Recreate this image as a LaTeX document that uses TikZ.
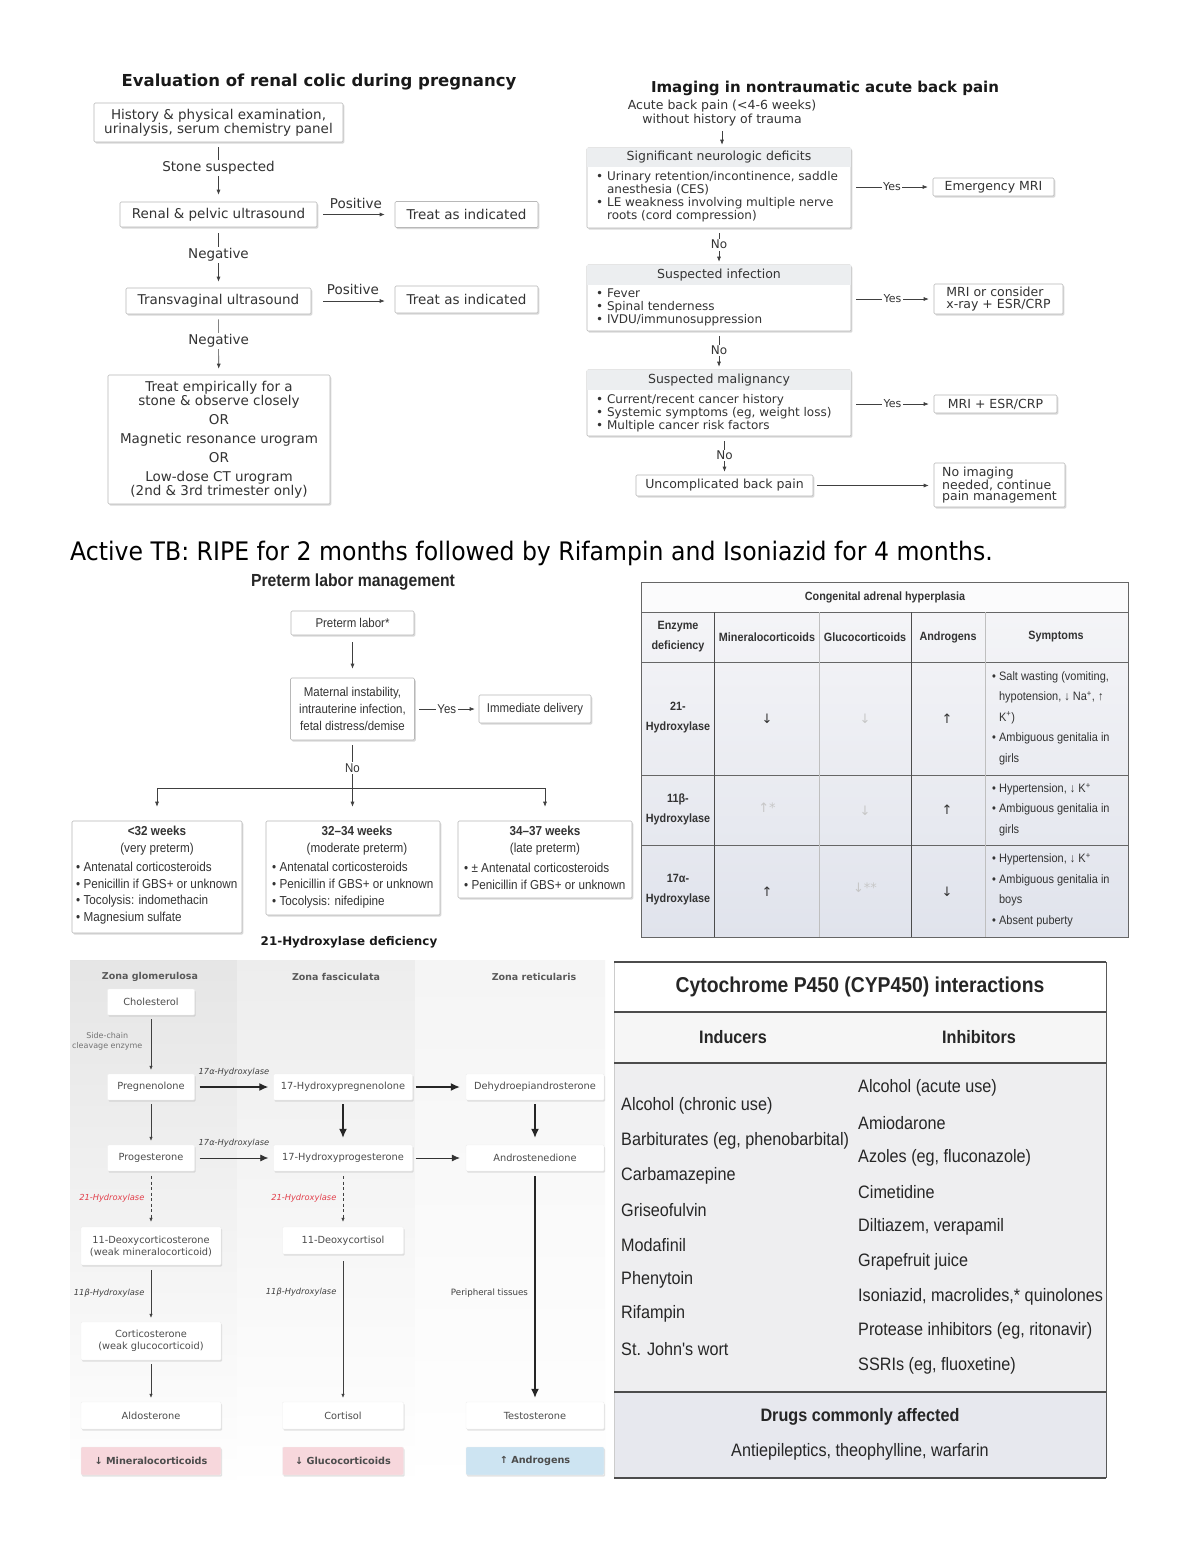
\documentclass[tikz,border=0pt]{standalone}
\usepackage{fontspec}
\setmainfont{DejaVu Sans}
\newfontfamily\dv{DejaVu Sans}
\newfontfamily\dvtb[FakeStretch=0.925]{DejaVu Sans}
\newfontfamily\nar[FakeStretch=0.9]{Liberation Sans}
\usetikzlibrary{arrows.meta,shadows,calc}
\definecolor{bxline}{gray}{0.72}
\definecolor{txt}{gray}{0.2}
\definecolor{hdrfill}{RGB}{236,238,240}
\definecolor{pinkf}{RGB}{247,215,220}
\definecolor{bluef}{RGB}{205,228,242}
\definecolor{redlab}{RGB}{226,62,74}
\definecolor{cahtop}{RGB}{246,246,248}
\definecolor{cahbot}{RGB}{224,227,236}
\definecolor{cypbody}{RGB}{238,238,240}
\definecolor{cypbot}{RGB}{231,232,238}
\definecolor{cyphead}{RGB}{246,246,246}
\tikzset{
  bx/.style={draw=bxline, fill=white, line width=0.6pt, rounded corners=1.2pt, inner sep=2pt, align=center,
    drop shadow={shadow xshift=1.3pt, shadow yshift=-1.6pt, opacity=0.3}},
  wb/.style={fill=white, draw=black!6, line width=0.4pt, rounded corners=1pt, inner sep=1pt, align=center,
    drop shadow={shadow xshift=1pt, shadow yshift=-1.5pt, opacity=0.22}},
  arr/.style={-{Latex[length=5pt,width=4pt]}, line width=0.6pt, draw=black!75},
  ln/.style={line width=0.6pt, draw=black!75},
  lab/.style={fill=white, inner sep=1.5pt},
  ta/.style={-{Latex[length=4pt,width=3.5pt]}, line width=0.6pt, draw=black!75},
  tk/.style={-{Latex[length=9pt,width=8pt]}, line width=1.3pt, draw=black!85},
  tm/.style={-{Latex[length=8pt,width=7pt]}, line width=0.7pt, draw=black!80},
  da/.style={ta, dash pattern=on 3pt off 2.5pt},
  el/.style={font=\dv\itshape\fontsize{8.3}{10}\selectfont, text=black!75},
  rl/.style={el, text=redlab},
  sl/.style={font=\dv\fontsize{8}{10}\selectfont, text=black!55, align=center},
  hb/.style={font=\nar\bfseries\fontsize{12}{20}\selectfont, align=center},
  fa/.style={text=black!22},
  ca/.style={font=\dv\fontsize{13}{15}\selectfont},
}
\begin{document}
\begin{tikzpicture}[x=1pt,y=-1pt]
\useasboundingbox[fill=white] (0,0) rectangle (1200,1553);

% ================= Section 1: renal colic =================
\begin{scope}[font=\dv\fontsize{13.5}{13}\selectfont, text=txt]
\node[font=\dv\bfseries\fontsize{16.5}{19}\selectfont, text=black!90] (t1) at (319,82) {Evaluation of renal colic during pregnancy};
\node[bx, minimum width=249, minimum height=39] (h1) at (218.5,122.5) {History \& physical examination,\\urinalysis, serum chemistry panel};
\node[bx, minimum width=197, minimum height=25] (r1) at (218.5,214.5) {Renal \& pelvic ultrasound};
\node[bx, minimum width=143, minimum height=26] (p1) at (466.5,214.5) {Treat as indicated};
\node[bx, minimum width=185, minimum height=26] (v1) at (218.5,301) {Transvaginal ultrasound};
\node[bx, minimum width=143, minimum height=27] (p2) at (466.5,299.5) {Treat as indicated};
\node[bx, minimum width=222, minimum height=129] (e1) at (219,439.5) {Treat empirically for a\\stone \& observe closely\\[6pt]OR\\[6pt]Magnetic resonance urogram\\[6pt]OR\\[6pt]Low-dose CT urogram\\(2nd \& 3rd trimester only)};
\draw[arr, shorten <=5pt, shorten >=7pt] (h1) -- node[lab, pos=0.43]{Stone suspected} (r1);
\draw[arr, shorten <=6pt, shorten >=6pt] (r1) -- node[lab, pos=0.46]{Negative} (v1);
\draw[arr, shorten <=5pt, shorten >=6pt] (v1) -- node[lab, pos=0.44]{Negative} (e1);
\draw[arr, shorten <=6pt, shorten >=10pt] (r1.east) -- node[above=4pt, inner sep=2pt]{Positive} (p1.west);
\draw[arr, shorten <=12pt, shorten >=10pt] (v1.east) -- node[above=4pt, inner sep=2pt]{Positive} (v1.east -| p2.west);
\end{scope}

% ================= Section 2: back pain =================
\begin{scope}[font=\dv\fontsize{12}{13}\selectfont, text=txt]
\node[font=\dv\bfseries\fontsize{15}{18}\selectfont, text=black!90] (t2) at (825,88) {Imaging in nontraumatic acute back pain};
\node[align=center, font=\dv\fontsize{12.5}{12}\selectfont] (s2) at (722,113) {Acute back pain (<4-6 weeks)\\without history of trauma};

\node[bx, minimum width=264, minimum height=80, rounded corners=1pt] (A) at (719,188) {};
\fill[hdrfill] ([shift={(0.7,0.7)}]A.north west) rectangle ([shift={(-0.7,19)}]A.north east);
\node[font=\dv\fontsize{12.5}{13}\selectfont] (Ah) at (719,157.5) {Significant neurologic deficits};
\node[anchor=north west, align=left, inner sep=0pt] (Ai) at (596,171) {• Urinary retention/incontinence, saddle\\\phantom{• }anesthesia (CES)\\• LE weakness involving multiple nerve\\\phantom{• }roots (cord compression)};

\node[bx, minimum width=264, minimum height=66, rounded corners=1pt] (B) at (719,298) {};
\fill[hdrfill] ([shift={(0.7,0.7)}]B.north west) rectangle ([shift={(-0.7,20)}]B.north east);
\node[font=\dv\fontsize{12.5}{13}\selectfont] (Bh) at (719,275.5) {Suspected infection};
\node[anchor=north west, align=left, inner sep=0pt] (Bi) at (596,289) {• Fever\\• Spinal tenderness\\• IVDU/immunosuppression};

\node[bx, minimum width=264, minimum height=66, rounded corners=1pt] (C) at (719,403) {};
\fill[hdrfill] ([shift={(0.7,0.7)}]C.north west) rectangle ([shift={(-0.7,20)}]C.north east);
\node[font=\dv\fontsize{12.5}{13}\selectfont] (Ch) at (719,380.5) {Suspected malignancy};
\node[anchor=north west, align=left, inner sep=0pt] (Ci) at (596,394) {• Current/recent cancer history\\• Systemic symptoms (eg, weight loss)\\• Multiple cancer risk factors};

\node[bx, minimum width=121, minimum height=18, font=\dv\fontsize{12.5}{13}\selectfont] (E1) at (993.5,187) {Emergency MRI};
\node[bx, minimum width=129, minimum height=30, font=\dv\fontsize{12.5}{11.5}\selectfont, align=left] (I1) at (998.5,299) {MRI or consider\\x-ray + ESR/CRP};
\node[bx, minimum width=123, minimum height=18, font=\dv\fontsize{12.5}{13}\selectfont] (M1) at (995.5,404) {MRI + ESR/CRP};
\node[bx, minimum width=177, minimum height=21, font=\dv\fontsize{12.5}{13}\selectfont] (U) at (724.5,485.5) {Uncomplicated back pain};
\node[bx, minimum width=131, minimum height=44, font=\dv\fontsize{12.5}{11.5}\selectfont, align=left] (N) at (999.5,485) {No imaging\\needed, continue\\pain management};

\draw[arr, shorten <=2pt, shorten >=3pt] (s2) -- (s2 |- A.north);
\draw[arr, shorten <=5pt, shorten >=3pt] (A) -- node[lab, pos=0.45]{No} (B);
\draw[arr, shorten <=5pt, shorten >=3pt] (B) -- node[lab, pos=0.5]{No} (C);
\draw[arr, shorten <=5pt, shorten >=3pt] (C.south -| U) -- node[lab, pos=0.5]{No} (U);
\draw[arr, shorten <=5pt, shorten >=5pt] (A.east |- E1) -- node[lab, font=\dv\fontsize{11}{12}\selectfont]{Yes} (E1.west);
\draw[arr, shorten <=5pt, shorten >=5pt] (B.east |- I1) -- node[lab, font=\dv\fontsize{11}{12}\selectfont]{Yes} (I1.west);
\draw[arr, shorten <=5pt, shorten >=5pt] (C.east |- M1) -- node[lab, font=\dv\fontsize{11}{12}\selectfont]{Yes} (M1.west);
\draw[arr, shorten <=4pt, shorten >=5pt] (U.east) -- (U.east -| N.west);
\end{scope}

% ================= Active TB line =================
\node[anchor=west, font=\dvtb\fontsize{25.5}{28}\selectfont, text=black, inner sep=0pt] (tb) at (70,553) {Active TB: RIPE for 2 months followed by Rifampin and Isoniazid for 4 months.};

% ================= Section 3: preterm labor =================
\begin{scope}[font=\nar\fontsize{12.75}{17}\selectfont, text=txt]
\node[font=\nar\bfseries\fontsize{17.5}{20}\selectfont, text=black!85] (t3) at (353,582) {Preterm labor management};
\node[bx, minimum width=123, minimum height=24] (P) at (352.5,623) {Preterm labor*};
\node[bx, minimum width=124, minimum height=62] (M) at (352.5,709) {Maternal instability,\\intrauterine infection,\\fetal distress/demise};
\node[bx, minimum width=112, minimum height=28] (D) at (535,709) {Immediate delivery};
\draw[arr, shorten <=7pt, shorten >=9pt] (P) -- (M);
\draw[arr, shorten <=4pt, shorten >=4pt] (M) -- node[lab]{Yes} (D);
\coordinate (J) at (352.5,788);
\coordinate (JL) at (157,788);
\coordinate (JR) at (545,788);
\draw[ln, shorten <=5pt] (M) -- node[lab, pos=0.58]{No} (J);
\draw[ln] (JL) -- (JR);
\node[bx, minimum width=170, minimum height=112] (B1) at (157,877) {};
\node[bx, minimum width=174, minimum height=94] (B2) at (353,868) {};
\node[bx, minimum width=174, minimum height=77] (B3) at (545,859.5) {};
\draw[arr, shorten >=14pt] (JL) -- (B1.north);
\draw[arr, shorten >=14pt] (J) -- (J |- B2.north);
\draw[arr, shorten >=14pt] (JR) -- (B3.north);
\node[align=center, font=\nar\fontsize{13}{17}\selectfont] (B1h) at (157,840.5) {\textbf{<32 weeks}\\(very preterm)};
\node[anchor=west, align=left, inner sep=0pt, font=\nar\fontsize{13}{16.7}\selectfont] (B1i) at (76,893) {• Antenatal corticosteroids\\• Penicillin if GBS+ or unknown\\• Tocolysis: indomethacin\\• Magnesium sulfate};
\node[align=center, font=\nar\fontsize{13}{17}\selectfont] (B2h) at (357,840.5) {\textbf{32–34 weeks}\\(moderate preterm)};
\node[anchor=west, align=left, inner sep=0pt, font=\nar\fontsize{13}{16.7}\selectfont] (B2i) at (272,885) {• Antenatal corticosteroids\\• Penicillin if GBS+ or unknown\\• Tocolysis: nifedipine};
\node[align=center, font=\nar\fontsize{13}{17}\selectfont] (B3h) at (545,840.5) {\textbf{34–37 weeks}\\(late preterm)};
\node[anchor=west, align=left, inner sep=0pt, font=\nar\fontsize{13}{16.7}\selectfont] (B3i) at (464,876.5) {• ± Antenatal corticosteroids\\• Penicillin if GBS+ or unknown};
\end{scope}

% ================= Section 4: CAH table =================
\begin{scope}[font=\nar\fontsize{12.2}{20.5}\selectfont, text=txt]
\shade[top color=cahtop, bottom color=cahbot] (641,582) rectangle (1128,937);
\fill[white!60!cahtop] (641,582) rectangle (1128,612);
\foreach \yy in {612,662,775,845} \draw[line width=0.9pt, black!60] (641,\yy) -- (1128,\yy);
\draw[line width=1pt, black!70] (714,612) -- (714,937);
\draw[line width=0.5pt, black!25] (819,612) -- (819,937);
\draw[line width=1pt, black!70] (911,612) -- (911,937);
\draw[line width=0.5pt, black!25] (985,612) -- (985,937);
\draw[line width=1pt, black!60] (641,582) rectangle (1128,937);
\node[hb] (c0) at (885,597) {Congenital adrenal hyperplasia};
\node[hb] (c1) at (678,637) {Enzyme\\deficiency};
\node[hb] (c2) at (767,637) {Mineralocorticoids};
\node[hb] (c3) at (865,637) {Glucocorticoids};
\node[hb] (c4) at (948,637) {Androgens};
\node[hb] (c5) at (1056,637) {Symptoms};
\node[hb] (r1e) at (678,718) {21-\\Hydroxylase};
\node[hb] (r2e) at (678,809) {11β-\\Hydroxylase};
\node[hb] (r3e) at (678,890) {17α-\\Hydroxylase};
\node[ca] (r1m) at (767,719) {↓};
\node[ca, fa] (r1g) at (865,719) {↓};
\node[ca] (r1a) at (947,719) {↑};
\node[ca, fa] (r2m) at (767,808) {↑*};
\node[ca, fa] (r2g) at (865,811) {↓};
\node[ca] (r2a) at (947,810) {↑};
\node[ca] (r3m) at (767,892) {↑};
\node[ca, fa] (r3g) at (865,888) {↓**};
\node[ca] (r3a) at (947,892) {↓};
\node[anchor=west, align=left, inner sep=0pt] (r1s) at (992,718) {• Salt wasting (vomiting,\\\phantom{• }hypotension, ↓ Na\textsuperscript{+}, ↑\\\phantom{• }K\textsuperscript{+})\\• Ambiguous genitalia in\\\phantom{• }girls};
\node[anchor=west, align=left, inner sep=0pt] (r2s) at (992,809.5) {• Hypertension, ↓ K\textsuperscript{+}\\• Ambiguous genitalia in\\\phantom{• }girls};
\node[anchor=west, align=left, inner sep=0pt] (r3s) at (992,890) {• Hypertension, ↓ K\textsuperscript{+}\\• Ambiguous genitalia in\\\phantom{• }boys\\• Absent puberty};
\end{scope}

% ================= Section 5: 21-hydroxylase =================
\begin{scope}[font=\dv\fontsize{9.8}{12}\selectfont, text=black!70]
\node[font=\dv\bfseries\fontsize{11.9}{14}\selectfont, text=black!90] (t5) at (349,942) {21-Hydroxylase deficiency};
\shade[top color=black!10, bottom color=white] (70,960) rectangle (237,1490);
\shade[top color=black!7, bottom color=white] (237,960) rectangle (415,1490);
\shade[top color=black!4, bottom color=white] (415,960) rectangle (605,1490);
\node[font=\dv\bfseries\fontsize{9.5}{11}\selectfont, text=black!65] (z1) at (150,977) {Zona glomerulosa};
\node[font=\dv\bfseries\fontsize{9.5}{11}\selectfont, text=black!65] (z2) at (336,977) {Zona fasciculata};
\node[font=\dv\bfseries\fontsize{9.5}{11}\selectfont, text=black!65] (z3) at (534,977) {Zona reticularis};

\node[wb, minimum width=87, minimum height=26] (chol) at (151,1002) {Cholesterol};
\node[wb, minimum width=87, minimum height=26] (preg) at (151,1087) {Pregnenolone};
\node[wb, minimum width=139, minimum height=26] (ohpreg) at (343,1087) {17-Hydroxypregnenolone};
\node[wb, minimum width=138, minimum height=26] (dhea) at (535,1087) {Dehydroepiandrosterone};
\node[wb, minimum width=87, minimum height=26] (prog) at (151,1158) {Progesterone};
\node[wb, minimum width=139, minimum height=26] (ohprog) at (343,1158) {17-Hydroxyprogesterone};
\node[wb, minimum width=138, minimum height=26] (andro) at (535,1158) {Androstenedione};
\node[wb, minimum width=140, minimum height=38] (doc) at (151,1246) {11-Deoxycorticosterone\\(weak mineralocorticoid)};
\node[wb, minimum width=121, minimum height=27] (dcort) at (343,1240.5) {11-Deoxycortisol};
\node[wb, minimum width=140, minimum height=38] (cst) at (151,1341) {Corticosterone\\(weak glucocorticoid)};
\node[wb, minimum width=140, minimum height=27] (aldo) at (151,1415.5) {Aldosterone};
\node[wb, minimum width=121, minimum height=27] (cortisol) at (343,1415.5) {Cortisol};
\node[wb, minimum width=138, minimum height=27] (testo) at (535,1415.5) {Testosterone};
\node[wb, fill=pinkf, minimum width=140, minimum height=28, font=\dv\bfseries\fontsize{9.7}{11}\selectfont] (mineral) at (151,1461) {↓ Mineralocorticoids};
\node[wb, fill=pinkf, minimum width=121, minimum height=28, font=\dv\bfseries\fontsize{9.7}{11}\selectfont] (gluco) at (343,1461) {↓ Glucocorticoids};
\node[wb, fill=bluef, minimum width=138, minimum height=28, font=\dv\bfseries\fontsize{9.7}{11}\selectfont] (andr) at (535,1461) {↑ Androgens};

\draw[ta, shorten <=4pt, shorten >=4pt] (chol) -- node[sl, left=5pt, pos=0.44]{Side-chain\\cleavage enzyme} (preg);
\draw[tk, shorten <=5pt, shorten >=5pt] (preg) -- node[el, above=7pt, pos=0.5]{17α-Hydroxylase} (ohpreg);
\draw[tk, shorten <=3pt, shorten >=6pt] (ohpreg) -- (dhea);
\draw[ta, shorten <=4pt, shorten >=4pt] (preg) -- (prog);
\draw[tk, shorten <=4pt, shorten >=7pt] (ohpreg) -- (ohprog);
\draw[tk, shorten <=4pt, shorten >=7pt] (dhea) -- (andro);
\draw[tm, shorten <=5pt, shorten >=5pt] (prog) -- node[el, above=7pt, pos=0.5]{17α-Hydroxylase} (ohprog);
\draw[tm, shorten <=3pt, shorten >=6pt] (ohprog) -- (andro);
\draw[da, shorten <=5pt, shorten >=5pt] (prog) -- node[rl, left=3pt, pos=0.48]{21-Hydroxylase} (doc);
\draw[da, shorten <=5pt, shorten >=5pt] (ohprog) -- node[rl, left=3pt, pos=0.48]{21-Hydroxylase} (dcort);
\draw[tk, shorten <=5pt, shorten >=4pt] (andro) -- node[el, font=\dv\fontsize{8.7}{10}\selectfont, left=3pt, pos=0.53]{Peripheral tissues} (testo);
\draw[ta, shorten <=5pt, shorten >=4pt] (doc) -- node[el, left=3pt, pos=0.49]{11β-Hydroxylase} (cst);
\draw[ta, shorten <=7pt, shorten >=4pt] (dcort) -- node[el, left=3pt, pos=0.26]{11β-Hydroxylase} (cortisol);
\draw[ta, shorten <=4pt, shorten >=4pt] (cst) -- (aldo);
\end{scope}

% ================= Section 6: CYP450 =================
\begin{scope}[font=\nar\fontsize{18}{20}\selectfont, text=black!85]
\fill[white] (614,962) rectangle (1106,1012);
\fill[cyphead] (614,1012) rectangle (1106,1063);
\fill[cypbody] (614,1063) rectangle (1106,1392);
\fill[cypbot] (614,1392) rectangle (1106,1478);
\draw[black!20, line width=0.6pt] (614,962) -- (614,1478);
\draw[black!65, line width=1pt] (1106,962) -- (1106,1478);
\foreach \yy in {962,1012,1063,1392,1478} \draw[black!70, line width=1.2pt] (614,\yy) -- (1106,\yy);
\node[font=\nar\bfseries\fontsize{21.5}{24}\selectfont] (y0) at (860,987) {Cytochrome P450 (CYP450) interactions};
\node[font=\nar\bfseries\fontsize{18}{20}\selectfont] (y1) at (733,1037) {Inducers};
\node[font=\nar\bfseries\fontsize{18}{20}\selectfont] (y2) at (979,1037) {Inhibitors};
\foreach \t [count=\i] in {{Alcohol (chronic use)},{Barbiturates (eg, phenobarbital)},{Carbamazepine},{Griseofulvin},{Modafinil},{Phenytoin},{Rifampin},{St. John's wort}}
  \node[anchor=west, inner sep=0pt] (ind\i) at (621,{1106+(\i-1)*34.7}) {\t};
\foreach \t [count=\i] in {{Alcohol (acute use)},{Amiodarone},{Azoles (eg, fluconazole)},{Cimetidine},{Diltiazem, verapamil},{Grapefruit juice},{Isoniazid, macrolides,* quinolones},{Protease inhibitors (eg, ritonavir)},{SSRIs (eg, fluoxetine)}}
  \node[anchor=west, inner sep=0pt] (inh\i) at (858,{1088+(\i-1)*34.75}) {\t};
\node[font=\nar\bfseries\fontsize{18}{20}\selectfont] (y3) at (860,1417) {Drugs commonly affected};
\node (y4) at (860,1452) {Antiepileptics, theophylline, warfarin};
\end{scope}
\end{tikzpicture}
\end{document}
